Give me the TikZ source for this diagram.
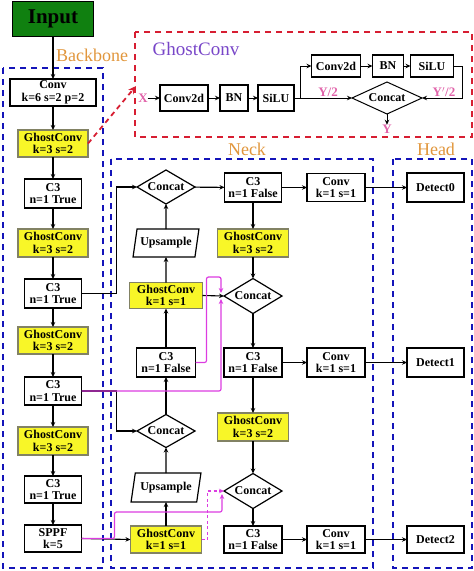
\documentclass[tikz,border=0pt]{standalone}
\usepackage{fontspec}
\setmainfont{Liberation Serif}
\usetikzlibrary{shapes.geometric,arrows.meta,calc}
\definecolor{dblue}{RGB}{20,20,185}
\definecolor{dred}{RGB}{215,30,50}
\definecolor{lorange}{RGB}{225,150,60}
\definecolor{lpurple}{RGB}{120,70,200}
\definecolor{lpink}{RGB}{225,100,170}
\definecolor{lmag}{RGB}{220,60,225}
\definecolor{lyellow}{RGB}{248,246,40}
\definecolor{gborder}{RGB}{130,130,100}
\definecolor{igreen}{RGB}{16,128,16}
\begin{document}
\begin{tikzpicture}[x=1pt,y=-1pt,
  every node/.style={inner sep=0pt,outer sep=0pt},
  txt/.style={font=\fontsize{12}{12.5}\selectfont\bfseries},
  box/.style={txt,draw,line width=1.2pt,fill=white,align=center,minimum height=28pt},
  gbox/.style={box,fill=lyellow,draw=gborder},
  cat/.style={txt,diamond,shape aspect=1.7,draw,line width=1.2pt,fill=white,minimum width=58pt,minimum height=34pt},
  ups/.style={txt,trapezium,trapezium left angle=72,trapezium right angle=108,trapezium stretches=true,draw,line width=1.2pt,fill=white,minimum width=66pt,minimum height=28pt},
  arr/.style={line width=1.1pt,-{Stealth[length=5pt,width=4.5pt]}},
  marr/.style={line width=1.2pt,draw=lmag,-{Stealth[length=5pt,width=4.5pt]},rounded corners=2pt},
  bluedash/.style={draw=dblue,line width=2pt,dash pattern=on 6pt off 5pt},
  reddash/.style={draw=dred,line width=2pt,dash pattern=on 6pt off 5pt},
  lbl/.style={font=\fontsize{18}{18}\selectfont,text=lorange},
  plbl/.style={font=\fontsize{13}{13}\selectfont\bfseries,text=lpink}
]
\useasboundingbox (0,0) rectangle (474,571);
% frames
\draw[bluedash] (3,68) rectangle (103,568);
\draw[bluedash] (111,159) rectangle (373,568);
\draw[bluedash] (393,159) rectangle (472,568);
\draw[reddash] (135,32) rectangle (472,137);
\node[lbl] (lbb) at (92,55) {Backbone};
\node[lbl] (lnk) at (247,149) {Neck};
\node[lbl] (lhd) at (436,149) {Head};
\node[font=\fontsize{19}{19}\selectfont,text=lpurple] (lgc) at (196,49) {GhostConv};

% input
\node[txt,draw,line width=1pt,fill=igreen,minimum width=81pt,minimum height=35pt,font=\fontsize{21}{21}\selectfont\bfseries] (inp) at (53,19) {Input};

% backbone
\node[box,minimum width=86pt,minimum height=27pt] (bConv) at (53,92.5) {Conv\\k=6 s=2 p=2};
\node[gbox,minimum width=70pt,minimum height=27pt] (bGC1) at (53,143.5) {GhostConv\\k=3 s=2};
\node[box,minimum width=57pt,minimum height=29pt] (bC3a) at (53,193.5) {C3\\n=1 True};
\node[gbox,minimum width=70pt] (bGC2) at (53,243) {GhostConv\\k=3 s=2};
\node[box,minimum width=57pt,minimum height=29pt] (bC3b) at (53,293.5) {C3\\n=1 True};
\node[gbox,minimum width=70pt,minimum height=27pt] (bGC3) at (53,340.5) {GhostConv\\k=3 s=2};
\node[box,minimum width=57pt] (bC3c) at (53,391) {C3\\n=1 True};
\node[gbox,minimum width=70pt] (bGC4) at (53,441) {GhostConv\\k=3 s=2};
\node[box,minimum width=57pt,minimum height=27pt] (bC3d) at (53,489.5) {C3\\n=1 True};
\node[box,minimum width=57pt,minimum height=27pt] (bSPPF) at (53,538.5) {SPPF\\k=5};

% neck left column
\node[cat] (nCatA) at (166,187) {Concat};
\node[ups] (nUpA) at (166,243) {Upsample};
\node[gbox,minimum width=73pt,minimum height=26pt] (nGCb) at (166,295.5) {GhostConv\\k=1 s=1};
\node[box,minimum width=59pt,minimum height=29pt] (nC3L) at (166,362.5) {C3\\n=1 False};
\node[cat,minimum height=33pt] (nCatC) at (166,431) {Concat};
\node[ups,minimum width=70pt,minimum height=29pt] (nUpB) at (166,487.5) {Upsample};
\node[gbox,minimum width=71pt,minimum height=27pt] (nGCc) at (166,539.5) {GhostConv\\k=1 s=1};

% neck right column
\node[box,minimum width=57pt,minimum height=29pt] (nC3T) at (253,187.5) {C3\\n=1 False};
\node[gbox,minimum width=71pt] (nGCk1) at (253,243) {GhostConv\\k=3 s=2};
\node[cat,minimum height=35pt] (nCatB) at (253,296) {Concat};
\node[box,minimum width=58pt,minimum height=29pt] (nC3M) at (253,362.5) {C3\\n=1 False};
\node[gbox,minimum width=71pt] (nGCk2) at (253,427) {GhostConv\\k=3 s=2};
\node[cat,minimum height=35pt] (nCatD) at (253,491) {Concat};
\node[box,minimum width=58pt,minimum height=27pt] (nC3B) at (253,539.5) {C3\\n=1 False};

% conv + detect
\node[box,minimum width=58pt] (nConvT) at (336,187.5) {Conv\\k=1 s=1};
\node[box,minimum width=58pt,minimum height=29pt] (nConvM) at (336,362.5) {Conv\\k=1 s=1};
\node[box,minimum width=58pt,minimum height=27pt] (nConvB) at (336,539.5) {Conv\\k=1 s=1};
\node[box,minimum width=57pt,minimum height=29pt] (nDet0) at (435.5,187.5) {Detect0};
\node[box,minimum width=57pt,minimum height=29pt] (nDet1) at (435.5,362.5) {Detect1};
\node[box,minimum width=57pt,minimum height=27pt] (nDet2) at (435.5,539.5) {Detect2};

% ghostconv detail
\node[plbl] (gX) at (143,98) {X};
\node[box,minimum width=48pt,minimum height=26pt] (gConv) at (184,98) {Conv2d};
\node[box,minimum width=28pt,minimum height=26pt] (gBN) at (234,98) {BN};
\node[box,minimum width=36pt,minimum height=26pt] (gSiLU) at (276,98) {SiLU};
\node[box,minimum width=49pt,minimum height=22pt] (gConvU) at (336,66) {Conv2d};
\node[box,minimum width=31pt,minimum height=22pt] (gBNU) at (388,66) {BN};
\node[box,minimum width=43pt,minimum height=22pt] (gSiLUU) at (432,66) {SiLU};
\node[cat,line width=1pt,minimum width=70pt,minimum height=32pt] (gCat) at (387,98) {Concat};
\node[plbl] (gY) at (387,129) {Y};
\node[plbl] (gY2) at (328,92) {Y/2};
\node[plbl] (gYp2) at (444,92) {Y$'$/2};

\begin{scope}[arr]
\draw (inp) -- (bConv);
\draw (bConv) -- (bGC1);
\draw (bGC1) -- (bC3a);
\draw (bC3a) -- (bGC2);
\draw (bGC2) -- (bC3b);
\draw (bC3b) -- (bGC3);
\draw (bGC3) -- (bC3c);
\draw (bC3c) -- (bGC4);
\draw (bGC4) -- (bC3d);
\draw (bC3d) -- (bSPPF);

\draw (bC3b.east) -- ++(35,0) |- (nCatA.west);
\draw (bC3c.east) -- ++(35,0) |- (nCatC.west);
\draw (bSPPF.east) -- (nGCc.west);

\draw (nGCc) -- (nUpB);
\draw (nUpB) -- (nCatC);
\draw (nCatC) -- (nC3L);
\draw (nC3L) -- (nGCb);
\draw (nGCb) -- (nUpA);
\draw (nUpA) -- (nCatA);
\draw (nCatA) -- (nC3T);
\draw (nGCb.east) -- (nCatB.west);

\draw (nC3T) -- (nGCk1);
\draw (nGCk1) -- (nCatB);
\draw (nCatB) -- (nC3M);
\draw (nC3M) -- (nGCk2);
\draw (nGCk2) -- (nCatD);
\draw (nCatD) -- (nC3B);

\draw (nC3T) -- (nConvT);
\draw (nConvT) -- (nDet0);
\draw (nC3M) -- (nConvM);
\draw (nConvM) -- (nDet1);
\draw (nC3B) -- (nConvB);
\draw (nConvB) -- (nDet2);
\end{scope}

\begin{scope}[arr,line width=0.9pt]
\draw (gX) -- (gConv);
\draw (gConv) -- (gBN);
\draw (gBN) -- (gSiLU);
\draw (gSiLU) -- (gCat.west);
\draw (gSiLU.east) -- ++(6,0) |- (gConvU.west);
\draw (gConvU) -- (gBNU);
\draw (gBNU) -- (gSiLUU);
\draw (gSiLUU.east) -- ++(9,0) |- (gCat.east);
\draw (gCat.south) -- (gY.north);
\end{scope}

% magenta connectors
\draw[marr] (nC3L.east) -- ++(11,0) |- ($(nCatB.west)+(-3,-19)$) -- ($(nCatB.west)+(-3,-3)$);
\draw[marr] (bC3c.east) -- ($(bC3c.east -| nCatB.west)+(-3,0)$) -- ($(nCatB.west)+(-3,3)$);
\draw[marr] (bSPPF.east) -- ++(33,0) |- ($(nCatD.west)+(-2,21)$) -- ($(nCatD.west)+(-2,3)$);
\draw[marr,dash pattern=on 3pt off 2.5pt,rounded corners=0pt] (nGCc.east) -- ++(6,0) |- (nCatD.west);

% red dashed link
\coordinate (gIn) at (136,86);
\draw[draw=dred,line width=1.8pt,dash pattern=on 5pt off 4pt,-{Stealth[length=8pt,width=7pt]}] (bGC1.east) -- (gIn);
\end{tikzpicture}
\end{document}
